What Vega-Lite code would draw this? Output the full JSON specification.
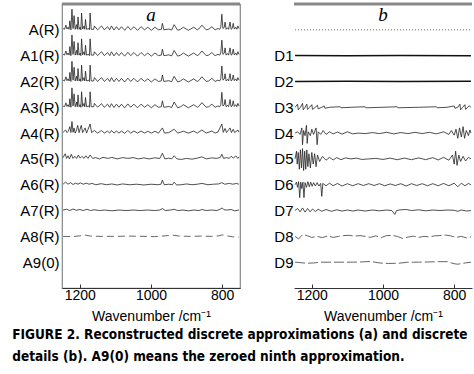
{
"$schema":"https://vega.github.io/schema/vega-lite/v6.json",
"padding":{"left":12,"top":1,"right":0,"bottom":0},
"spacing":30,
"title":{"text":["FIGURE 2.  Reconstructed discrete approximations (a) and discrete","details (b). A9(0) means the zeroed ninth approximation."],"orient":"bottom","anchor":"start","font":"Liberation Sans Narrow, DejaVu Sans Condensed, sans-serif","fontSize":13.5,"fontWeight":"bold","lineHeight":22,"offset":4,"dx":-7,"color":"#000"},
"datasets":{
"A":[
{"s":"A0","x":1247,"y":10.05},{"s":"A0","x":1243,"y":10.02},{"s":"A0","x":1239,"y":10.18},{"s":"A0","x":1236,"y":10.03},{"s":"A0","x":1233,"y":10.1},{"s":"A0","x":1230,"y":10.02},{"s":"A0","x":1228,"y":10.35},{"s":"A0","x":1225,"y":10},{"s":"A0","x":1222,"y":10.8},{"s":"A0","x":1219,"y":10.05},{"s":"A0","x":1216,"y":10.55},{"s":"A0","x":1213,"y":10.02},{"s":"A0","x":1209,"y":10.2},{"s":"A0","x":1207,"y":10.02},{"s":"A0","x":1205,"y":10.5},{"s":"A0","x":1202,"y":10.02},{"s":"A0","x":1199,"y":10.1},{"s":"A0","x":1197,"y":10},{"s":"A0","x":1195,"y":10.65},{"s":"A0","x":1192,"y":10.03},{"s":"A0","x":1188,"y":10.15},{"s":"A0","x":1186,"y":10.02},{"s":"A0","x":1184,"y":10.4},{"s":"A0","x":1181,"y":10.02},{"s":"A0","x":1175,"y":10.05},{"s":"A0","x":1173,"y":10},{"s":"A0","x":1171,"y":10.65},{"s":"A0","x":1168,"y":10.02},{"s":"A0","x":1161,"y":10.02},{"s":"A0","x":1159,"y":10.15},{"s":"A0","x":1150,"y":10},{"s":"A0","x":1139,"y":10.15},{"s":"A0","x":1131,"y":10},{"s":"A0","x":1122,"y":10.12},{"s":"A0","x":1116,"y":10},{"s":"A0","x":1111,"y":10.15},{"s":"A0","x":1104,"y":9.99},{"s":"A0","x":1097,"y":10.12},{"s":"A0","x":1090,"y":10},{"s":"A0","x":1083,"y":10.12},{"s":"A0","x":1074,"y":9.98},{"s":"A0","x":1065,"y":10.13},{"s":"A0","x":1057,"y":10},{"s":"A0","x":1048,"y":10.12},{"s":"A0","x":1038,"y":9.98},{"s":"A0","x":1028,"y":10.12},{"s":"A0","x":1018,"y":10},{"s":"A0","x":1009,"y":10.1},{"s":"A0","x":999,"y":9.98},{"s":"A0","x":989,"y":10.1},{"s":"A0","x":979,"y":10},{"s":"A0","x":971,"y":10.02},{"s":"A0","x":968,"y":10.25},{"s":"A0","x":964,"y":10},{"s":"A0","x":950,"y":10.03},{"s":"A0","x":942,"y":9.99},{"s":"A0","x":935,"y":10.2},{"s":"A0","x":925,"y":9.98},{"s":"A0","x":917,"y":10.02},{"s":"A0","x":909,"y":10.1},{"s":"A0","x":895,"y":9.98},{"s":"A0","x":880,"y":10.1},{"s":"A0","x":870,"y":10},{"s":"A0","x":866,"y":10.03},{"s":"A0","x":857,"y":10.18},{"s":"A0","x":845,"y":10},{"s":"A0","x":838,"y":10.02},{"s":"A0","x":829,"y":10.12},{"s":"A0","x":820,"y":10},{"s":"A0","x":812,"y":10.05},{"s":"A0","x":807,"y":10.02},{"s":"A0","x":804,"y":10.1},{"s":"A0","x":801,"y":10.6},{"s":"A0","x":798,"y":10.05},{"s":"A0","x":794,"y":10.1},{"s":"A0","x":792,"y":10.3},{"s":"A0","x":789,"y":10.02},{"s":"A0","x":785,"y":10.08},{"s":"A0","x":782,"y":10.02},{"s":"A0","x":778,"y":10.3},{"s":"A0","x":775,"y":10.02},{"s":"A0","x":772,"y":10.05},{"s":"A0","x":769,"y":10.25},{"s":"A0","x":766,"y":10.03},{"s":"A0","x":762,"y":10.1},{"s":"A0","x":759,"y":10.02},{"s":"A0","x":756,"y":10.15},{"s":"A0","x":753,"y":10.05},
{"s":"A1","x":1247,"y":9.05},{"s":"A1","x":1243,"y":9.02},{"s":"A1","x":1239,"y":9.18},{"s":"A1","x":1236,"y":9.03},{"s":"A1","x":1233,"y":9.1},{"s":"A1","x":1230,"y":9.02},{"s":"A1","x":1228,"y":9.35},{"s":"A1","x":1225,"y":9},{"s":"A1","x":1222,"y":9.8},{"s":"A1","x":1219,"y":9.05},{"s":"A1","x":1216,"y":9.55},{"s":"A1","x":1213,"y":9.02},{"s":"A1","x":1209,"y":9.2},{"s":"A1","x":1207,"y":9.02},{"s":"A1","x":1205,"y":9.5},{"s":"A1","x":1202,"y":9.02},{"s":"A1","x":1199,"y":9.1},{"s":"A1","x":1197,"y":9},{"s":"A1","x":1195,"y":9.65},{"s":"A1","x":1192,"y":9.03},{"s":"A1","x":1188,"y":9.15},{"s":"A1","x":1186,"y":9.02},{"s":"A1","x":1184,"y":9.4},{"s":"A1","x":1181,"y":9.02},{"s":"A1","x":1175,"y":9.05},{"s":"A1","x":1173,"y":9},{"s":"A1","x":1171,"y":9.65},{"s":"A1","x":1168,"y":9.02},{"s":"A1","x":1161,"y":9.02},{"s":"A1","x":1159,"y":9.15},{"s":"A1","x":1150,"y":9},{"s":"A1","x":1139,"y":9.15},{"s":"A1","x":1131,"y":9},{"s":"A1","x":1122,"y":9.12},{"s":"A1","x":1116,"y":9},{"s":"A1","x":1111,"y":9.15},{"s":"A1","x":1104,"y":8.99},{"s":"A1","x":1097,"y":9.12},{"s":"A1","x":1090,"y":9},{"s":"A1","x":1083,"y":9.12},{"s":"A1","x":1074,"y":8.98},{"s":"A1","x":1065,"y":9.13},{"s":"A1","x":1057,"y":9},{"s":"A1","x":1048,"y":9.12},{"s":"A1","x":1038,"y":8.98},{"s":"A1","x":1028,"y":9.12},{"s":"A1","x":1018,"y":9},{"s":"A1","x":1009,"y":9.1},{"s":"A1","x":999,"y":8.98},{"s":"A1","x":989,"y":9.1},{"s":"A1","x":979,"y":9},{"s":"A1","x":971,"y":9.02},{"s":"A1","x":968,"y":9.25},{"s":"A1","x":964,"y":9},{"s":"A1","x":950,"y":9.03},{"s":"A1","x":942,"y":8.99},{"s":"A1","x":935,"y":9.2},{"s":"A1","x":925,"y":8.98},{"s":"A1","x":917,"y":9.02},{"s":"A1","x":909,"y":9.1},{"s":"A1","x":895,"y":8.98},{"s":"A1","x":880,"y":9.1},{"s":"A1","x":870,"y":9},{"s":"A1","x":866,"y":9.03},{"s":"A1","x":857,"y":9.18},{"s":"A1","x":845,"y":9},{"s":"A1","x":838,"y":9.02},{"s":"A1","x":829,"y":9.12},{"s":"A1","x":820,"y":9},{"s":"A1","x":812,"y":9.05},{"s":"A1","x":807,"y":9.02},{"s":"A1","x":804,"y":9.1},{"s":"A1","x":801,"y":9.6},{"s":"A1","x":798,"y":9.05},{"s":"A1","x":794,"y":9.1},{"s":"A1","x":792,"y":9.3},{"s":"A1","x":789,"y":9.02},{"s":"A1","x":785,"y":9.08},{"s":"A1","x":782,"y":9.02},{"s":"A1","x":778,"y":9.3},{"s":"A1","x":775,"y":9.02},{"s":"A1","x":772,"y":9.05},{"s":"A1","x":769,"y":9.25},{"s":"A1","x":766,"y":9.03},{"s":"A1","x":762,"y":9.1},{"s":"A1","x":759,"y":9.02},{"s":"A1","x":756,"y":9.15},{"s":"A1","x":753,"y":9.05},
{"s":"A2","x":1247,"y":8.05},{"s":"A2","x":1243,"y":8.02},{"s":"A2","x":1239,"y":8.18},{"s":"A2","x":1236,"y":8.03},{"s":"A2","x":1233,"y":8.1},{"s":"A2","x":1230,"y":8.02},{"s":"A2","x":1228,"y":8.35},{"s":"A2","x":1225,"y":8},{"s":"A2","x":1222,"y":8.78},{"s":"A2","x":1219,"y":8.05},{"s":"A2","x":1216,"y":8.55},{"s":"A2","x":1213,"y":8.02},{"s":"A2","x":1209,"y":8.2},{"s":"A2","x":1207,"y":8.02},{"s":"A2","x":1205,"y":8.5},{"s":"A2","x":1202,"y":8.02},{"s":"A2","x":1199,"y":8.1},{"s":"A2","x":1197,"y":8},{"s":"A2","x":1195,"y":8.63},{"s":"A2","x":1192,"y":8.03},{"s":"A2","x":1188,"y":8.15},{"s":"A2","x":1186,"y":8.02},{"s":"A2","x":1184,"y":8.4},{"s":"A2","x":1181,"y":8.02},{"s":"A2","x":1175,"y":8.05},{"s":"A2","x":1173,"y":8},{"s":"A2","x":1171,"y":8.63},{"s":"A2","x":1168,"y":8.02},{"s":"A2","x":1161,"y":8.02},{"s":"A2","x":1159,"y":8.15},{"s":"A2","x":1150,"y":8},{"s":"A2","x":1139,"y":8.15},{"s":"A2","x":1131,"y":8},{"s":"A2","x":1122,"y":8.12},{"s":"A2","x":1116,"y":8},{"s":"A2","x":1111,"y":8.15},{"s":"A2","x":1104,"y":7.99},{"s":"A2","x":1097,"y":8.12},{"s":"A2","x":1090,"y":8},{"s":"A2","x":1083,"y":8.12},{"s":"A2","x":1074,"y":7.98},{"s":"A2","x":1065,"y":8.13},{"s":"A2","x":1057,"y":8},{"s":"A2","x":1048,"y":8.12},{"s":"A2","x":1038,"y":7.98},{"s":"A2","x":1028,"y":8.12},{"s":"A2","x":1018,"y":8},{"s":"A2","x":1009,"y":8.1},{"s":"A2","x":999,"y":7.98},{"s":"A2","x":989,"y":8.1},{"s":"A2","x":979,"y":8},{"s":"A2","x":971,"y":8.02},{"s":"A2","x":968,"y":8.25},{"s":"A2","x":964,"y":8},{"s":"A2","x":950,"y":8.03},{"s":"A2","x":942,"y":7.99},{"s":"A2","x":935,"y":8.2},{"s":"A2","x":925,"y":7.98},{"s":"A2","x":917,"y":8.02},{"s":"A2","x":909,"y":8.1},{"s":"A2","x":895,"y":7.98},{"s":"A2","x":880,"y":8.1},{"s":"A2","x":870,"y":8},{"s":"A2","x":866,"y":8.03},{"s":"A2","x":857,"y":8.18},{"s":"A2","x":845,"y":8},{"s":"A2","x":838,"y":8.02},{"s":"A2","x":829,"y":8.12},{"s":"A2","x":820,"y":8},{"s":"A2","x":812,"y":8.05},{"s":"A2","x":807,"y":8.02},{"s":"A2","x":804,"y":8.1},{"s":"A2","x":801,"y":8.6},{"s":"A2","x":798,"y":8.05},{"s":"A2","x":794,"y":8.1},{"s":"A2","x":792,"y":8.3},{"s":"A2","x":789,"y":8.02},{"s":"A2","x":785,"y":8.08},{"s":"A2","x":782,"y":8.02},{"s":"A2","x":778,"y":8.3},{"s":"A2","x":775,"y":8.02},{"s":"A2","x":772,"y":8.05},{"s":"A2","x":769,"y":8.25},{"s":"A2","x":766,"y":8.03},{"s":"A2","x":762,"y":8.1},{"s":"A2","x":759,"y":8.02},{"s":"A2","x":756,"y":8.15},{"s":"A2","x":753,"y":8.05},
{"s":"A3","x":1247,"y":7.05},{"s":"A3","x":1243,"y":7.02},{"s":"A3","x":1239,"y":7.17},{"s":"A3","x":1236,"y":7.03},{"s":"A3","x":1233,"y":7.1},{"s":"A3","x":1230,"y":7.02},{"s":"A3","x":1228,"y":7.33},{"s":"A3","x":1225,"y":7},{"s":"A3","x":1222,"y":7.75},{"s":"A3","x":1219,"y":7.05},{"s":"A3","x":1216,"y":7.52},{"s":"A3","x":1213,"y":7.02},{"s":"A3","x":1209,"y":7.2},{"s":"A3","x":1207,"y":7.02},{"s":"A3","x":1205,"y":7.48},{"s":"A3","x":1202,"y":7.02},{"s":"A3","x":1199,"y":7.1},{"s":"A3","x":1197,"y":7},{"s":"A3","x":1195,"y":7.6},{"s":"A3","x":1192,"y":7.03},{"s":"A3","x":1188,"y":7.15},{"s":"A3","x":1186,"y":7.02},{"s":"A3","x":1184,"y":7.38},{"s":"A3","x":1181,"y":7.02},{"s":"A3","x":1175,"y":7.05},{"s":"A3","x":1173,"y":7},{"s":"A3","x":1171,"y":7.6},{"s":"A3","x":1168,"y":7.02},{"s":"A3","x":1161,"y":7.02},{"s":"A3","x":1159,"y":7.15},{"s":"A3","x":1150,"y":7},{"s":"A3","x":1139,"y":7.14},{"s":"A3","x":1131,"y":7},{"s":"A3","x":1122,"y":7.12},{"s":"A3","x":1116,"y":7},{"s":"A3","x":1111,"y":7.14},{"s":"A3","x":1104,"y":6.99},{"s":"A3","x":1097,"y":7.12},{"s":"A3","x":1090,"y":7},{"s":"A3","x":1083,"y":7.12},{"s":"A3","x":1074,"y":6.98},{"s":"A3","x":1065,"y":7.13},{"s":"A3","x":1057,"y":7},{"s":"A3","x":1048,"y":7.12},{"s":"A3","x":1038,"y":6.98},{"s":"A3","x":1028,"y":7.12},{"s":"A3","x":1018,"y":7},{"s":"A3","x":1009,"y":7.1},{"s":"A3","x":999,"y":6.98},{"s":"A3","x":989,"y":7.1},{"s":"A3","x":979,"y":7},{"s":"A3","x":971,"y":7.02},{"s":"A3","x":968,"y":7.25},{"s":"A3","x":964,"y":7},{"s":"A3","x":950,"y":7.03},{"s":"A3","x":942,"y":6.99},{"s":"A3","x":935,"y":7.2},{"s":"A3","x":925,"y":6.98},{"s":"A3","x":917,"y":7.02},{"s":"A3","x":909,"y":7.1},{"s":"A3","x":895,"y":6.98},{"s":"A3","x":880,"y":7.1},{"s":"A3","x":870,"y":7},{"s":"A3","x":866,"y":7.03},{"s":"A3","x":857,"y":7.18},{"s":"A3","x":845,"y":7},{"s":"A3","x":838,"y":7.02},{"s":"A3","x":829,"y":7.12},{"s":"A3","x":820,"y":7},{"s":"A3","x":812,"y":7.05},{"s":"A3","x":807,"y":7.02},{"s":"A3","x":804,"y":7.1},{"s":"A3","x":801,"y":7.58},{"s":"A3","x":798,"y":7.05},{"s":"A3","x":794,"y":7.1},{"s":"A3","x":792,"y":7.3},{"s":"A3","x":789,"y":7.02},{"s":"A3","x":785,"y":7.08},{"s":"A3","x":782,"y":7.02},{"s":"A3","x":778,"y":7.3},{"s":"A3","x":775,"y":7.02},{"s":"A3","x":772,"y":7.05},{"s":"A3","x":769,"y":7.25},{"s":"A3","x":766,"y":7.03},{"s":"A3","x":762,"y":7.1},{"s":"A3","x":759,"y":7.02},{"s":"A3","x":756,"y":7.15},{"s":"A3","x":753,"y":7.05},
{"s":"A4","x":1247,"y":6.03},{"s":"A4","x":1240,"y":6.12},{"s":"A4","x":1236,"y":6.02},{"s":"A4","x":1232,"y":6.08},{"s":"A4","x":1228,"y":6.25},{"s":"A4","x":1225,"y":6.02},{"s":"A4","x":1222,"y":6.45},{"s":"A4","x":1219,"y":6.03},{"s":"A4","x":1216,"y":6.2},{"s":"A4","x":1213,"y":6},{"s":"A4","x":1209,"y":6.12},{"s":"A4","x":1206,"y":6.3},{"s":"A4","x":1202,"y":6.02},{"s":"A4","x":1196,"y":6.3},{"s":"A4","x":1192,"y":6.02},{"s":"A4","x":1185,"y":6.2},{"s":"A4","x":1181,"y":6},{"s":"A4","x":1171,"y":6.35},{"s":"A4","x":1167,"y":6.02},{"s":"A4","x":1159,"y":6.1},{"s":"A4","x":1150,"y":6},{"s":"A4","x":1139,"y":6.1},{"s":"A4","x":1131,"y":6},{"s":"A4","x":1122,"y":6.08},{"s":"A4","x":1116,"y":6},{"s":"A4","x":1111,"y":6.1},{"s":"A4","x":1104,"y":6},{"s":"A4","x":1097,"y":6.08},{"s":"A4","x":1090,"y":6},{"s":"A4","x":1083,"y":6.08},{"s":"A4","x":1074,"y":5.99},{"s":"A4","x":1065,"y":6.1},{"s":"A4","x":1057,"y":6},{"s":"A4","x":1048,"y":6.08},{"s":"A4","x":1038,"y":6},{"s":"A4","x":1028,"y":6.08},{"s":"A4","x":1018,"y":6},{"s":"A4","x":1009,"y":6.07},{"s":"A4","x":999,"y":6},{"s":"A4","x":989,"y":6.07},{"s":"A4","x":979,"y":6},{"s":"A4","x":968,"y":6.2},{"s":"A4","x":962,"y":6},{"s":"A4","x":950,"y":6.02},{"s":"A4","x":935,"y":6.15},{"s":"A4","x":925,"y":6},{"s":"A4","x":909,"y":6.07},{"s":"A4","x":895,"y":6},{"s":"A4","x":880,"y":6.08},{"s":"A4","x":870,"y":6},{"s":"A4","x":857,"y":6.12},{"s":"A4","x":845,"y":6},{"s":"A4","x":829,"y":6.08},{"s":"A4","x":820,"y":6},{"s":"A4","x":812,"y":6.04},{"s":"A4","x":801,"y":6.35},{"s":"A4","x":797,"y":6.03},{"s":"A4","x":792,"y":6.18},{"s":"A4","x":788,"y":6.02},{"s":"A4","x":778,"y":6.2},{"s":"A4","x":774,"y":6.02},{"s":"A4","x":769,"y":6.15},{"s":"A4","x":765,"y":6.02},{"s":"A4","x":756,"y":6.12},{"s":"A4","x":753,"y":6.04},
{"s":"A5","x":1247,"y":5.05},{"s":"A5","x":1241,"y":5.2},{"s":"A5","x":1237,"y":5.02},{"s":"A5","x":1233,"y":5.12},{"s":"A5","x":1229,"y":5},{"s":"A5","x":1224,"y":5.18},{"s":"A5","x":1219,"y":5.02},{"s":"A5","x":1214,"y":5.1},{"s":"A5","x":1209,"y":5.02},{"s":"A5","x":1204,"y":5.15},{"s":"A5","x":1199,"y":5.03},{"s":"A5","x":1194,"y":5.1},{"s":"A5","x":1188,"y":5.02},{"s":"A5","x":1183,"y":5.12},{"s":"A5","x":1177,"y":5.02},{"s":"A5","x":1171,"y":5.15},{"s":"A5","x":1164,"y":5.02},{"s":"A5","x":1155,"y":5.05},{"s":"A5","x":1145,"y":5},{"s":"A5","x":1135,"y":5.06},{"s":"A5","x":1120,"y":5.02},{"s":"A5","x":1110,"y":5.06},{"s":"A5","x":1095,"y":5},{"s":"A5","x":1080,"y":5.05},{"s":"A5","x":1065,"y":5.02},{"s":"A5","x":1050,"y":5.05},{"s":"A5","x":1035,"y":5},{"s":"A5","x":1020,"y":5.04},{"s":"A5","x":1005,"y":5},{"s":"A5","x":990,"y":5.04},{"s":"A5","x":975,"y":5.02},{"s":"A5","x":968,"y":5.22},{"s":"A5","x":961,"y":5},{"s":"A5","x":950,"y":5.03},{"s":"A5","x":942,"y":5},{"s":"A5","x":935,"y":5.12},{"s":"A5","x":927,"y":5},{"s":"A5","x":915,"y":4.98},{"s":"A5","x":900,"y":5.02},{"s":"A5","x":885,"y":4.99},{"s":"A5","x":870,"y":5.03},{"s":"A5","x":857,"y":5.08},{"s":"A5","x":845,"y":5},{"s":"A5","x":830,"y":5.04},{"s":"A5","x":815,"y":5.02},{"s":"A5","x":805,"y":5.06},{"s":"A5","x":801,"y":5.18},{"s":"A5","x":796,"y":5.02},{"s":"A5","x":788,"y":5.05},{"s":"A5","x":780,"y":5.02},{"s":"A5","x":775,"y":5.1},{"s":"A5","x":768,"y":5.03},{"s":"A5","x":762,"y":5.12},{"s":"A5","x":756,"y":5.02},{"s":"A5","x":753,"y":5.08},
{"s":"A6","x":1247,"y":4.02},{"s":"A6","x":1240,"y":4.1},{"s":"A6","x":1233,"y":4.02},{"s":"A6","x":1226,"y":4.08},{"s":"A6","x":1219,"y":4.01},{"s":"A6","x":1212,"y":4.06},{"s":"A6","x":1205,"y":4.02},{"s":"A6","x":1198,"y":4.07},{"s":"A6","x":1190,"y":4.02},{"s":"A6","x":1182,"y":4.06},{"s":"A6","x":1174,"y":4.02},{"s":"A6","x":1166,"y":4.05},{"s":"A6","x":1155,"y":4},{"s":"A6","x":1140,"y":4.04},{"s":"A6","x":1125,"y":4},{"s":"A6","x":1110,"y":4.03},{"s":"A6","x":1095,"y":3.99},{"s":"A6","x":1080,"y":4.03},{"s":"A6","x":1060,"y":4},{"s":"A6","x":1040,"y":4.02},{"s":"A6","x":1020,"y":3.99},{"s":"A6","x":1000,"y":4.02},{"s":"A6","x":980,"y":4},{"s":"A6","x":972,"y":4.02},{"s":"A6","x":968,"y":4.18},{"s":"A6","x":963,"y":4},{"s":"A6","x":950,"y":4.02},{"s":"A6","x":940,"y":4},{"s":"A6","x":935,"y":4.1},{"s":"A6","x":928,"y":3.99},{"s":"A6","x":915,"y":4},{"s":"A6","x":900,"y":4.03},{"s":"A6","x":885,"y":4},{"s":"A6","x":870,"y":4.02},{"s":"A6","x":857,"y":4.05},{"s":"A6","x":840,"y":4},{"s":"A6","x":825,"y":4.02},{"s":"A6","x":810,"y":4.03},{"s":"A6","x":801,"y":4.08},{"s":"A6","x":793,"y":4.02},{"s":"A6","x":780,"y":4.05},{"s":"A6","x":770,"y":4.02},{"s":"A6","x":760,"y":4.05},{"s":"A6","x":753,"y":4.02},
{"s":"A7","x":1247,"y":3.02},{"s":"A7","x":1237,"y":3.05},{"s":"A7","x":1228,"y":3},{"s":"A7","x":1219,"y":3.06},{"s":"A7","x":1210,"y":3.01},{"s":"A7","x":1200,"y":3.04},{"s":"A7","x":1190,"y":3},{"s":"A7","x":1180,"y":3.05},{"s":"A7","x":1170,"y":3},{"s":"A7","x":1160,"y":3.03},{"s":"A7","x":1145,"y":3},{"s":"A7","x":1130,"y":3.02},{"s":"A7","x":1110,"y":2.99},{"s":"A7","x":1090,"y":3.02},{"s":"A7","x":1070,"y":3},{"s":"A7","x":1050,"y":3.02},{"s":"A7","x":1030,"y":3},{"s":"A7","x":1010,"y":3.02},{"s":"A7","x":990,"y":3},{"s":"A7","x":975,"y":3.02},{"s":"A7","x":968,"y":3.08},{"s":"A7","x":960,"y":3},{"s":"A7","x":945,"y":3.02},{"s":"A7","x":935,"y":3.05},{"s":"A7","x":925,"y":3},{"s":"A7","x":910,"y":3.02},{"s":"A7","x":895,"y":2.99},{"s":"A7","x":880,"y":3.02},{"s":"A7","x":865,"y":3},{"s":"A7","x":857,"y":3.04},{"s":"A7","x":845,"y":3},{"s":"A7","x":830,"y":3.02},{"s":"A7","x":815,"y":3},{"s":"A7","x":805,"y":3.06},{"s":"A7","x":800,"y":3.1},{"s":"A7","x":795,"y":3.03},{"s":"A7","x":785,"y":3.02},{"s":"A7","x":775,"y":3.04},{"s":"A7","x":765,"y":2.99},{"s":"A7","x":753,"y":3.02},
{"s":"A8","x":1247,"y":2},{"s":"A8","x":1220,"y":1.99},{"s":"A8","x":1200,"y":2.02},{"s":"A8","x":1185,"y":2.05},{"s":"A8","x":1170,"y":2.01},{"s":"A8","x":1140,"y":2},{"s":"A8","x":1100,"y":2},{"s":"A8","x":1060,"y":2.01},{"s":"A8","x":1020,"y":2},{"s":"A8","x":990,"y":1.99},{"s":"A8","x":960,"y":2.02},{"s":"A8","x":940,"y":2.05},{"s":"A8","x":920,"y":2.01},{"s":"A8","x":890,"y":2},{"s":"A8","x":860,"y":2.01},{"s":"A8","x":830,"y":2},{"s":"A8","x":810,"y":2.02},{"s":"A8","x":800,"y":2.06},{"s":"A8","x":790,"y":2.03},{"s":"A8","x":770,"y":1.98},{"s":"A8","x":753,"y":1.97}
],
"B":[
{"s":"B0","x":1247,"y":10},{"s":"B0","x":753,"y":10},
{"s":"D1","x":1247,"y":9.01},{"s":"D1","x":1100,"y":9},{"s":"D1","x":950,"y":9.01},{"s":"D1","x":753,"y":9},
{"s":"D2","x":1247,"y":8},{"s":"D2","x":1100,"y":8.01},{"s":"D2","x":950,"y":8},{"s":"D2","x":753,"y":8.01},
{"s":"D3","x":1247,"y":7},{"s":"D3","x":1240,"y":7.12},{"s":"D3","x":1238,"y":6.9},{"s":"D3","x":1232,"y":7},{"s":"D3","x":1226,"y":7.15},{"s":"D3","x":1224,"y":6.9},{"s":"D3","x":1219,"y":7},{"s":"D3","x":1214,"y":7.12},{"s":"D3","x":1212,"y":6.92},{"s":"D3","x":1206,"y":7},{"s":"D3","x":1200,"y":7.1},{"s":"D3","x":1198,"y":6.92},{"s":"D3","x":1190,"y":7},{"s":"D3","x":1184,"y":7.08},{"s":"D3","x":1182,"y":6.94},{"s":"D3","x":1172,"y":7},{"s":"D3","x":1165,"y":7.05},{"s":"D3","x":1163,"y":6.96},{"s":"D3","x":1150,"y":7},{"s":"D3","x":1120,"y":7.02},{"s":"D3","x":1118,"y":6.98},{"s":"D3","x":1090,"y":7},{"s":"D3","x":1050,"y":7.02},{"s":"D3","x":1048,"y":6.98},{"s":"D3","x":1000,"y":7},{"s":"D3","x":960,"y":7.02},{"s":"D3","x":958,"y":6.98},{"s":"D3","x":900,"y":7},{"s":"D3","x":850,"y":7.02},{"s":"D3","x":848,"y":6.98},{"s":"D3","x":820,"y":7},{"s":"D3","x":800,"y":7.05},{"s":"D3","x":798,"y":6.96},{"s":"D3","x":790,"y":7},{"s":"D3","x":784,"y":7.12},{"s":"D3","x":782,"y":6.9},{"s":"D3","x":776,"y":7},{"s":"D3","x":770,"y":7.1},{"s":"D3","x":768,"y":6.92},{"s":"D3","x":762,"y":7},{"s":"D3","x":758,"y":7.06},{"s":"D3","x":753,"y":7},
{"s":"D4","x":1247,"y":6},{"s":"D4","x":1240,"y":6.05},{"s":"D4","x":1233,"y":5.95},{"s":"D4","x":1228,"y":6.2},{"s":"D4","x":1226,"y":5.55},{"s":"D4","x":1223,"y":6.1},{"s":"D4","x":1219,"y":5.9},{"s":"D4","x":1215,"y":6.3},{"s":"D4","x":1213,"y":5.6},{"s":"D4","x":1210,"y":6.05},{"s":"D4","x":1204,"y":5.9},{"s":"D4","x":1200,"y":6.15},{"s":"D4","x":1195,"y":5.95},{"s":"D4","x":1188,"y":6.2},{"s":"D4","x":1185,"y":5.55},{"s":"D4","x":1182,"y":6.05},{"s":"D4","x":1175,"y":5.95},{"s":"D4","x":1168,"y":6.1},{"s":"D4","x":1160,"y":5.95},{"s":"D4","x":1150,"y":6.05},{"s":"D4","x":1140,"y":5.97},{"s":"D4","x":1128,"y":6.04},{"s":"D4","x":1115,"y":5.96},{"s":"D4","x":1100,"y":6.05},{"s":"D4","x":1085,"y":5.97},{"s":"D4","x":1070,"y":6},{"s":"D4","x":1050,"y":5.98},{"s":"D4","x":1030,"y":6.02},{"s":"D4","x":1010,"y":5.98},{"s":"D4","x":990,"y":6.03},{"s":"D4","x":970,"y":5.97},{"s":"D4","x":950,"y":6.02},{"s":"D4","x":930,"y":5.98},{"s":"D4","x":910,"y":6.03},{"s":"D4","x":890,"y":5.98},{"s":"D4","x":870,"y":6.03},{"s":"D4","x":850,"y":5.97},{"s":"D4","x":830,"y":6.05},{"s":"D4","x":815,"y":5.95},{"s":"D4","x":808,"y":6.1},{"s":"D4","x":800,"y":5.92},{"s":"D4","x":795,"y":6.15},{"s":"D4","x":790,"y":5.8},{"s":"D4","x":785,"y":6.2},{"s":"D4","x":780,"y":5.85},{"s":"D4","x":775,"y":6.25},{"s":"D4","x":771,"y":5.8},{"s":"D4","x":766,"y":6.1},{"s":"D4","x":760,"y":5.9},{"s":"D4","x":756,"y":6.12},{"s":"D4","x":753,"y":6},
{"s":"D5","x":1247,"y":5},{"s":"D5","x":1243,"y":5.3},{"s":"D5","x":1241,"y":4.8},{"s":"D5","x":1238,"y":5.25},{"s":"D5","x":1235,"y":4.6},{"s":"D5","x":1232,"y":5.35},{"s":"D5","x":1229,"y":4.65},{"s":"D5","x":1226,"y":5.4},{"s":"D5","x":1223,"y":4.55},{"s":"D5","x":1220,"y":5.3},{"s":"D5","x":1217,"y":4.6},{"s":"D5","x":1214,"y":5.35},{"s":"D5","x":1211,"y":4.7},{"s":"D5","x":1208,"y":5.2},{"s":"D5","x":1204,"y":4.65},{"s":"D5","x":1200,"y":5.25},{"s":"D5","x":1196,"y":4.8},{"s":"D5","x":1192,"y":5.2},{"s":"D5","x":1188,"y":4.7},{"s":"D5","x":1184,"y":5.15},{"s":"D5","x":1178,"y":4.9},{"s":"D5","x":1170,"y":5.1},{"s":"D5","x":1160,"y":4.95},{"s":"D5","x":1150,"y":5.06},{"s":"D5","x":1140,"y":4.96},{"s":"D5","x":1130,"y":5.05},{"s":"D5","x":1118,"y":4.97},{"s":"D5","x":1105,"y":5.04},{"s":"D5","x":1090,"y":5},{"s":"D5","x":1075,"y":5.03},{"s":"D5","x":1060,"y":4.98},{"s":"D5","x":1040,"y":5},{"s":"D5","x":1020,"y":5.02},{"s":"D5","x":1000,"y":4.98},{"s":"D5","x":980,"y":5.03},{"s":"D5","x":960,"y":4.97},{"s":"D5","x":940,"y":5.03},{"s":"D5","x":920,"y":4.97},{"s":"D5","x":900,"y":5.04},{"s":"D5","x":880,"y":4.97},{"s":"D5","x":860,"y":5.05},{"s":"D5","x":845,"y":4.96},{"s":"D5","x":830,"y":5.06},{"s":"D5","x":815,"y":4.95},{"s":"D5","x":805,"y":5.15},{"s":"D5","x":800,"y":4.8},{"s":"D5","x":796,"y":5.3},{"s":"D5","x":792,"y":4.75},{"s":"D5","x":787,"y":5.15},{"s":"D5","x":782,"y":4.9},{"s":"D5","x":775,"y":5.1},{"s":"D5","x":768,"y":4.92},{"s":"D5","x":760,"y":5.06},{"s":"D5","x":753,"y":5},
{"s":"D6","x":1247,"y":4},{"s":"D6","x":1243,"y":4.1},{"s":"D6","x":1240,"y":3.9},{"s":"D6","x":1237,"y":4.12},{"s":"D6","x":1234,"y":3.5},{"s":"D6","x":1231,"y":4.1},{"s":"D6","x":1228,"y":3.85},{"s":"D6","x":1225,"y":4.1},{"s":"D6","x":1222,"y":3.5},{"s":"D6","x":1219,"y":4.08},{"s":"D6","x":1215,"y":3.9},{"s":"D6","x":1211,"y":4.12},{"s":"D6","x":1207,"y":3.92},{"s":"D6","x":1203,"y":4.1},{"s":"D6","x":1199,"y":3.94},{"s":"D6","x":1195,"y":4.08},{"s":"D6","x":1190,"y":3.95},{"s":"D6","x":1185,"y":4.08},{"s":"D6","x":1180,"y":3.95},{"s":"D6","x":1175,"y":4.05},{"s":"D6","x":1172,"y":3.55},{"s":"D6","x":1169,"y":4.05},{"s":"D6","x":1160,"y":3.96},{"s":"D6","x":1150,"y":4.06},{"s":"D6","x":1140,"y":3.96},{"s":"D6","x":1128,"y":4.05},{"s":"D6","x":1115,"y":3.95},{"s":"D6","x":1100,"y":4.04},{"s":"D6","x":1085,"y":3.96},{"s":"D6","x":1070,"y":4.04},{"s":"D6","x":1055,"y":3.97},{"s":"D6","x":1040,"y":4.04},{"s":"D6","x":1025,"y":3.97},{"s":"D6","x":1010,"y":4.04},{"s":"D6","x":995,"y":3.96},{"s":"D6","x":980,"y":4.03},{"s":"D6","x":965,"y":3.97},{"s":"D6","x":950,"y":4.04},{"s":"D6","x":935,"y":3.95},{"s":"D6","x":920,"y":4.04},{"s":"D6","x":905,"y":3.97},{"s":"D6","x":890,"y":4.04},{"s":"D6","x":875,"y":3.96},{"s":"D6","x":860,"y":4.04},{"s":"D6","x":845,"y":3.96},{"s":"D6","x":830,"y":4.05},{"s":"D6","x":815,"y":3.96},{"s":"D6","x":800,"y":4.06},{"s":"D6","x":790,"y":3.92},{"s":"D6","x":780,"y":4.06},{"s":"D6","x":770,"y":3.96},{"s":"D6","x":760,"y":4.05},{"s":"D6","x":753,"y":4},
{"s":"D7","x":1247,"y":3},{"s":"D7","x":1240,"y":3.08},{"s":"D7","x":1233,"y":2.95},{"s":"D7","x":1226,"y":3.1},{"s":"D7","x":1219,"y":2.94},{"s":"D7","x":1212,"y":3.08},{"s":"D7","x":1205,"y":2.95},{"s":"D7","x":1198,"y":3.06},{"s":"D7","x":1190,"y":2.96},{"s":"D7","x":1182,"y":3.05},{"s":"D7","x":1172,"y":2.97},{"s":"D7","x":1160,"y":3.04},{"s":"D7","x":1145,"y":2.97},{"s":"D7","x":1130,"y":3.03},{"s":"D7","x":1115,"y":2.98},{"s":"D7","x":1100,"y":3.02},{"s":"D7","x":1085,"y":2.98},{"s":"D7","x":1070,"y":3.02},{"s":"D7","x":1050,"y":2.98},{"s":"D7","x":1030,"y":3.02},{"s":"D7","x":1010,"y":2.99},{"s":"D7","x":990,"y":3.02},{"s":"D7","x":975,"y":3},{"s":"D7","x":967,"y":2.85},{"s":"D7","x":962,"y":3},{"s":"D7","x":950,"y":3.03},{"s":"D7","x":935,"y":3.04},{"s":"D7","x":920,"y":3},{"s":"D7","x":900,"y":3.03},{"s":"D7","x":880,"y":2.99},{"s":"D7","x":860,"y":3.02},{"s":"D7","x":840,"y":3},{"s":"D7","x":820,"y":3.02},{"s":"D7","x":800,"y":3.01},{"s":"D7","x":790,"y":2.97},{"s":"D7","x":780,"y":3.02},{"s":"D7","x":765,"y":2.98},{"s":"D7","x":753,"y":3},
{"s":"D8","x":1247,"y":2},{"s":"D8","x":1237,"y":1.9},{"s":"D8","x":1225,"y":2.08},{"s":"D8","x":1212,"y":2.02},{"s":"D8","x":1200,"y":1.96},{"s":"D8","x":1185,"y":2},{"s":"D8","x":1170,"y":1.95},{"s":"D8","x":1155,"y":2.02},{"s":"D8","x":1140,"y":1.96},{"s":"D8","x":1125,"y":2},{"s":"D8","x":1110,"y":2.03},{"s":"D8","x":1095,"y":2.04},{"s":"D8","x":1080,"y":2.01},{"s":"D8","x":1065,"y":2.03},{"s":"D8","x":1050,"y":2},{"s":"D8","x":1035,"y":1.96},{"s":"D8","x":1020,"y":2.02},{"s":"D8","x":1005,"y":1.95},{"s":"D8","x":990,"y":2.03},{"s":"D8","x":975,"y":2.04},{"s":"D8","x":960,"y":2},{"s":"D8","x":945,"y":1.92},{"s":"D8","x":930,"y":1.97},{"s":"D8","x":915,"y":2.01},{"s":"D8","x":900,"y":1.96},{"s":"D8","x":885,"y":2},{"s":"D8","x":870,"y":1.98},{"s":"D8","x":855,"y":2.02},{"s":"D8","x":840,"y":2.03},{"s":"D8","x":825,"y":2.05},{"s":"D8","x":810,"y":2.02},{"s":"D8","x":795,"y":1.96},{"s":"D8","x":780,"y":2},{"s":"D8","x":765,"y":1.94},{"s":"D8","x":753,"y":1.98},
{"s":"D9","x":1247,"y":1},{"s":"D9","x":1215,"y":0.96},{"s":"D9","x":1195,"y":0.97},{"s":"D9","x":1175,"y":1},{"s":"D9","x":1150,"y":1},{"s":"D9","x":1120,"y":1},{"s":"D9","x":1090,"y":1},{"s":"D9","x":1060,"y":1.01},{"s":"D9","x":1035,"y":1.03},{"s":"D9","x":1010,"y":0.97},{"s":"D9","x":985,"y":0.95},{"s":"D9","x":955,"y":0.96},{"s":"D9","x":930,"y":1},{"s":"D9","x":900,"y":1},{"s":"D9","x":870,"y":1.01},{"s":"D9","x":845,"y":1.02},{"s":"D9","x":820,"y":1.02},{"s":"D9","x":800,"y":0.94},{"s":"D9","x":790,"y":0.92},{"s":"D9","x":775,"y":0.96},{"s":"D9","x":753,"y":1}
]
},
"hconcat":[
{"width":178,"height":284,
"layer":[
{"data":{"name":"A"},"transform":[{"filter":"datum.s!='A8'"}],"mark":{"type":"line","color":"#222","strokeWidth":0.8},
"encoding":{"x":{"field":"x","type":"quantitative","scale":{"domain":[753,1247],"reverse":true},"axis":{"values":[800,1000,1200],"format":"d","title":"Wavenumber /cm⁻¹"}},
"y":{"field":"y","type":"quantitative","scale":{"domain":[0,11]},"axis":{"values":[1,2,3,4,5,6,7,8,9,10],"tickCount":20,"title":null,"labelOverlap":false,"labelExpr":"['','A9(0)','A8(R)','A7(R)','A6(R)','A5(R)','A4(R)','A3(R)','A2(R)','A1(R)','A(R)'][datum.value]"}},
"detail":{"field":"s"}}},
{"data":{"name":"A"},"transform":[{"filter":"datum.s=='A8'"}],"mark":{"type":"line","color":"#555","strokeWidth":0.9,"strokeDash":[7,4]},
"encoding":{"x":{"field":"x","type":"quantitative"},"y":{"field":"y","type":"quantitative"},"detail":{"field":"s"}}},
{"data":{"values":[{"x":1000,"y":10.58,"t":"a"}]},"mark":{"type":"text","font":"Liberation Serif","fontStyle":"italic","fontSize":19,"color":"#000"},
"encoding":{"x":{"field":"x","type":"quantitative"},"y":{"field":"y","type":"quantitative"},"text":{"field":"t"}}},
{"data":{"values":[{"y":11}]},"mark":{"type":"rule","color":"#888","strokeWidth":3},"encoding":{"y":{"field":"y","type":"quantitative"}}}
]},
{"width":178,"height":284,"view":{"stroke":null},
"layer":[
{"data":{"name":"B"},"transform":[{"filter":"datum.s=='B0'"}],"mark":{"type":"line","color":"#666","strokeWidth":1,"strokeDash":[1,2]},
"encoding":{"x":{"field":"x","type":"quantitative","scale":{"domain":[753,1247],"reverse":true},"axis":{"values":[800,1000,1200],"format":"d","title":"Wavenumber /cm⁻¹"}},
"y":{"field":"y","type":"quantitative","scale":{"domain":[0,11]},"axis":{"values":[1,2,3,4,5,6,7,8,9,10],"tickCount":20,"title":null,"labelPadding":1,"labelOverlap":false,"labelExpr":"['','D9','D8','D7','D6','D5','D4','D3','D2','D1',''][datum.value]"}},
"detail":{"field":"s"}}},
{"data":{"name":"B"},"transform":[{"filter":"datum.s=='D1'||datum.s=='D2'"}],"mark":{"type":"line","color":"#111","strokeWidth":1.5},
"encoding":{"x":{"field":"x","type":"quantitative"},"y":{"field":"y","type":"quantitative"},"detail":{"field":"s"}}},
{"data":{"name":"B"},"transform":[{"filter":{"field":"s","oneOf":["D3","D4","D5","D6","D7"]}}],"mark":{"type":"line","color":"#222","strokeWidth":0.8},
"encoding":{"x":{"field":"x","type":"quantitative"},"y":{"field":"y","type":"quantitative"},"detail":{"field":"s"}}},
{"data":{"name":"B"},"transform":[{"filter":"datum.s=='D8'||datum.s=='D9'"}],"mark":{"type":"line","color":"#555","strokeWidth":0.9,"strokeDash":[10,3]},
"encoding":{"x":{"field":"x","type":"quantitative"},"y":{"field":"y","type":"quantitative"},"detail":{"field":"s"}}},
{"data":{"values":[{"x":1000,"y":10.58,"t":"b"}]},"mark":{"type":"text","font":"Liberation Serif","fontStyle":"italic","fontSize":19,"color":"#000"},
"encoding":{"x":{"field":"x","type":"quantitative"},"y":{"field":"y","type":"quantitative"},"text":{"field":"t"}}},
{"data":{"values":[{"y":11}]},"mark":{"type":"rule","color":"#888","strokeWidth":3},"encoding":{"y":{"field":"y","type":"quantitative"}}}
]}
],
"config":{
"view":{"stroke":"#888","strokeWidth":1.2},
"axis":{"grid":false,"labelFont":"Liberation Sans","titleFont":"Liberation Sans","labelColor":"#000","titleColor":"#000","titleFontWeight":"normal"},
"axisX":{"labelFontSize":14,"titleFontSize":14,"tickSize":-4,"tickColor":"#333","domainColor":"#333","labelPadding":4,"titlePadding":7},
"axisY":{"domain":false,"ticks":false,"labelFontSize":15,"labelPadding":3,"labelOverlap":false}
}
}
